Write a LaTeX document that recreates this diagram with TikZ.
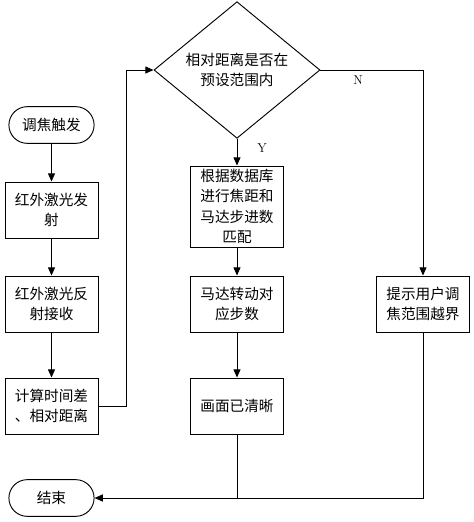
\documentclass[tikz,border=0pt]{standalone}
\usepackage{fontspec}
\newfontfamily\cjk{Noto Sans CJK SC}
\usepackage{tikz}
\usetikzlibrary{shapes.geometric, shapes.misc, arrows.meta, positioning, calc}

\begin{document}
\begin{tikzpicture}[x=0.03cm, y=-0.03cm,
    proc/.style={rectangle, draw, line width=0.8pt, minimum width=2.79cm, minimum height=1.68cm,
                 inner sep=1pt, align=center, font=\cjk\fontsize{12.5}{17.5}\selectfont},
    term/.style={rounded rectangle, draw, line width=0.8pt, minimum width=2.79cm, minimum height=1.1cm,
                 font=\cjk\fontsize{12.5}{17.5}\selectfont},
    cond/.style={diamond, draw, line width=0.8pt, minimum width=4.98cm, minimum height=3.96cm,
                 inner sep=0pt, align=center, font=\cjk\fontsize{12.5}{17.5}\selectfont},
    arr/.style={-{Triangle[length=7pt, width=6pt]}, line width=0.8pt},
    lbl/.style={font=\fontsize{11}{13}\selectfont}
]
\useasboundingbox (0,0) rectangle (474,522);

% left column
\node[term] (trig) at (51.5,125) {调焦触发};
\node[proc] (emit) at (51.5,210) {红外激光发\\射};
\node[proc] (recv) at (51.5,304) {红外激光反\\射接收};
\node[proc] (calc) at (51.5,406) {计算时间差\\、相对距离};
\node[term] (stop) at (51.5,498) {结束};

% middle column
\node[cond] (range) at (237,70) {相对距离是否在\\预设范围内};
\node[proc, minimum height=2.43cm] (match) at (237,206.5) {根据数据库\\进行焦距和\\马达步进数\\匹配};
\node[proc] (motor) at (237,304) {马达转动对\\应步数};
\node[proc] (clear) at (237,406) {画面已清晰};

% right column
\node[proc] (warn) at (423,304) {提示用户调\\焦范围越界};

\node[lbl] (yes) at (262,148) {Y};
\node[lbl] (no) at (358,80) {N};

\draw[arr] (trig) -- (emit);
\draw[arr] (emit) -- (recv);
\draw[arr] (recv) -- (calc);
\draw[arr] (calc.east) -- ++(28,0) |- (range.west);
\draw[arr] (range.south) -- (match.north);
\draw[arr] (range.east) -| (warn.north);
\draw[arr] (match) -- (motor);
\draw[arr] (motor) -- (clear);
\draw[line width=0.8pt] (clear.south) -- (clear.south |- stop.east);
\draw[arr] (warn.south) |- (stop.east);
\end{tikzpicture}
\end{document}
